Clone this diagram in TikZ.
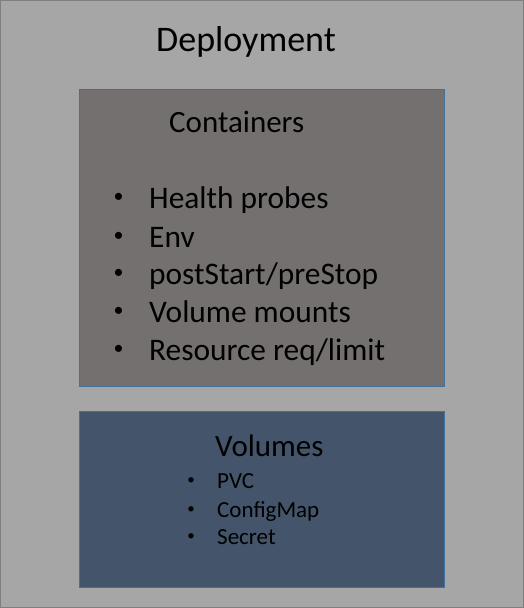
\documentclass[tikz,border=0pt]{standalone}
\usepackage{fontspec}
\setmainfont{Carlito}
\definecolor{outerfill}{HTML}{A6A6A6}
\definecolor{outerline}{HTML}{7F7F7F}
\definecolor{contfill}{HTML}{757070}
\definecolor{volfill}{HTML}{44546A}
\definecolor{boxline}{HTML}{41719C}
\begin{document}
\begin{tikzpicture}[x=1pt,y=-1pt,
  panel/.style={draw=boxline,line width=1pt},
  heading/.style={anchor=base west,inner sep=0pt,font=\fontsize{31}{31}\selectfont},
  bigitem/.style={anchor=base west,inner sep=0pt,font=\fontsize{31.4}{31}\selectfont},
  smallitem/.style={anchor=base west,inner sep=0pt,font=\fontsize{23}{23}\selectfont},
  bigdot/.style={anchor=center,inner sep=0pt,font=\fontsize{20}{20}\selectfont},
  smalldot/.style={anchor=center,inner sep=0pt,font=\fontsize{15}{15}\selectfont}]

        % outer deployment frame
        \draw[draw=outerline,fill=outerfill,line width=1pt] (0.5,0.5) rectangle (523.5,607.5);
        \useasboundingbox (0,0) rectangle (524,608);

        \node[anchor=base west,inner sep=0pt,font=\fontsize{36}{36}\selectfont] (deploy) at (156,51) {Deployment};

        % containers box
        \draw[panel,fill=contfill] (79.5,89.5) rectangle (444.5,386.5);
        \node[heading] (conttitle) at (169,132) {Containers};
        \foreach \txt/\yy [count=\i] in {Health probes/208, Env/247, postStart\slash preStop/284, Volume mounts/322, Resource req\slash limit/360}{
          \node[bigdot] (cb\i) at (118.5,\yy-10) {\textbullet};
          \node[bigitem] (ci\i) at (149,\yy) {\txt};
        }

        % volumes box
        \draw[panel,fill=volfill] (79.5,411.5) rectangle (444.5,587.5);
        \node[heading] (voltitle) at (215,456) {Volumes};
        \foreach \txt/\yy [count=\i] in {PVC/488, ConfigMap/517, Secret/544}{
          \node[smalldot] (vb\i) at (191,\yy-7) {\textbullet};
          \node[smallitem] (vi\i) at (217,\yy) {\txt};
        }

\end{tikzpicture}
\end{document}
